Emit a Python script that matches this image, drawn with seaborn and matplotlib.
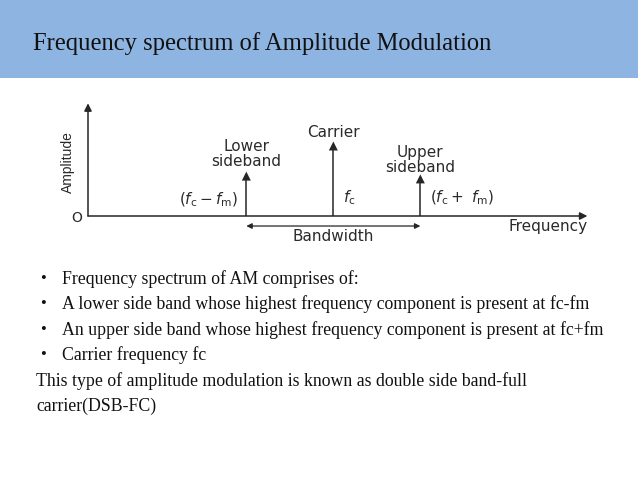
import numpy as np
import pandas as pd
import seaborn as sns
import matplotlib.pyplot as plt
from matplotlib.patches import Rectangle

# spectral components (frequency in units of fm, amplitude relative to carrier)
fc = 2.82
fm = 1.0
components = ['Lower\nsideband', 'Carrier', 'Upper\nsideband']
freqs = [fc - fm, fc, fc + fm]
amps = [0.57, 1.0, 0.53]
freq_labels = [r'$(f_{\rm c} - f_{\rm m})$', r'$f_{\rm c}$', r'$(f_{\rm c} + \ f_{\rm m})$']

title = 'Frequency spectrum of Amplitude Modulation'
bullets = [
    'Frequency spectrum of AM comprises of:',
    'A lower side band whose highest frequency component is present at fc-fm',
    'An upper side band whose highest frequency component is present at fc+fm',
    'Carrier frequency fc',
]
closing = ['This type of amplitude modulation is known as double side band-full',
           'carrier(DSB-FC)']

sns.set_theme(style='white')
plt.rcParams['font.family'] = ['DejaVu Sans']
plt.rcParams['mathtext.fontset'] = 'dejavusans'

W, H = 638, 479
fig = plt.figure(figsize=(W / 100, H / 100), dpi=100)
fig.patch.set_facecolor('white')

# header band
fig.patches.append(Rectangle((0, 1 - 78 / H), 1, 78 / H, transform=fig.transFigure,
                             facecolor='#8EB4E2', edgecolor='none', zorder=0))
fig.text(33 / W, 1 - 44 / H, title, family='Liberation Serif', fontsize=17.7,
         color='#111111', ha='left', va='center')

# diagram axes: origin at pixel (88, 216), 87 px per fm, 70 px per unit amplitude
px_l, px_r, py_t, py_b = 48, 608, 95, 245
ax = fig.add_axes([px_l / W, 1 - py_b / H, (px_r - px_l) / W, (py_b - py_t) / H])
ax.set_xlim((px_l - 88) / 87, (px_r - 88) / 87)
ax.set_ylim((216 - py_b) / 70, (216 - py_t) / 70)
ax.axis('off')
ax.patch.set_alpha(0)

ink = '#262626'
arrow = dict(arrowstyle='-|>', color=ink, lw=1.1, mutation_scale=11, shrinkA=0, shrinkB=0)
ax.annotate('', xy=(5.74, 0), xytext=(0, 0), arrowprops=arrow)
ax.annotate('', xy=(0, 1.61), xytext=(0, 0), arrowprops=arrow)

df = pd.DataFrame({'freq': freqs, 'amp': amps, 'name': components})
ax.vlines(df['freq'], 0, df['amp'], color=ink, lw=1.1)
sns.scatterplot(data=df, x='freq', y='amp', marker='^', s=42, color=ink,
                edgecolor='none', ax=ax, legend=False)

# bandwidth double arrow
ax.annotate('', xy=(freqs[2], -0.143), xytext=(freqs[0], -0.143),
            arrowprops=dict(arrowstyle='<|-|>', color=ink, lw=0.9,
                            mutation_scale=8, shrinkA=0, shrinkB=0))

fs = 11
txt = '#2a2a2a'
ax.text(-0.23, 0.77, 'Amplitude', rotation=90, ha='center', va='center',
        family=['Liberation Sans Narrow', 'Liberation Sans'], fontsize=10, color=txt)
ax.text(-0.126, -0.03, 'O', ha='center', va='center', fontsize=10, color=txt)
ax.text(5.74, -0.157, 'Frequency', ha='right', va='center', fontsize=fs, color=txt)
ax.text(freqs[1], -0.29, 'Bandwidth', ha='center', va='center', fontsize=fs, color=txt)

label_y = [0.886, 1.186, 0.807]
for f, name, ly in zip(freqs, components, label_y):
    ax.text(f, ly, name, ha='center', va='center', fontsize=fs, color=txt,
            linespacing=1.0)

ax.text(freqs[0] - 0.09, 0.229, freq_labels[0], ha='right', va='center', fontsize=fs, color=txt)
ax.text(freqs[1] + 0.11, 0.257, freq_labels[1], ha='left', va='center', fontsize=fs, color=txt)
ax.text(freqs[2] + 0.11, 0.257, freq_labels[2], ha='left', va='center', fontsize=fs, color=txt)

# bullet list
serif = 'Liberation Serif'
bfs = 12.8
bullet_y = [279, 304, 330, 355]
for y, line in zip(bullet_y, bullets):
    fig.text(43 / W, 1 - y / H, '\u2022', family=serif, fontsize=12, color='#111111',
             ha='center', va='center')
    fig.text(62 / W, 1 - y / H, line, family=serif, fontsize=bfs, color='#111111',
             ha='left', va='center')
for y, line in zip([381, 406], closing):
    fig.text(36 / W, 1 - y / H, line, family=serif, fontsize=bfs, color='#111111',
             ha='left', va='center')

fig.savefig('out.png', dpi=100)
